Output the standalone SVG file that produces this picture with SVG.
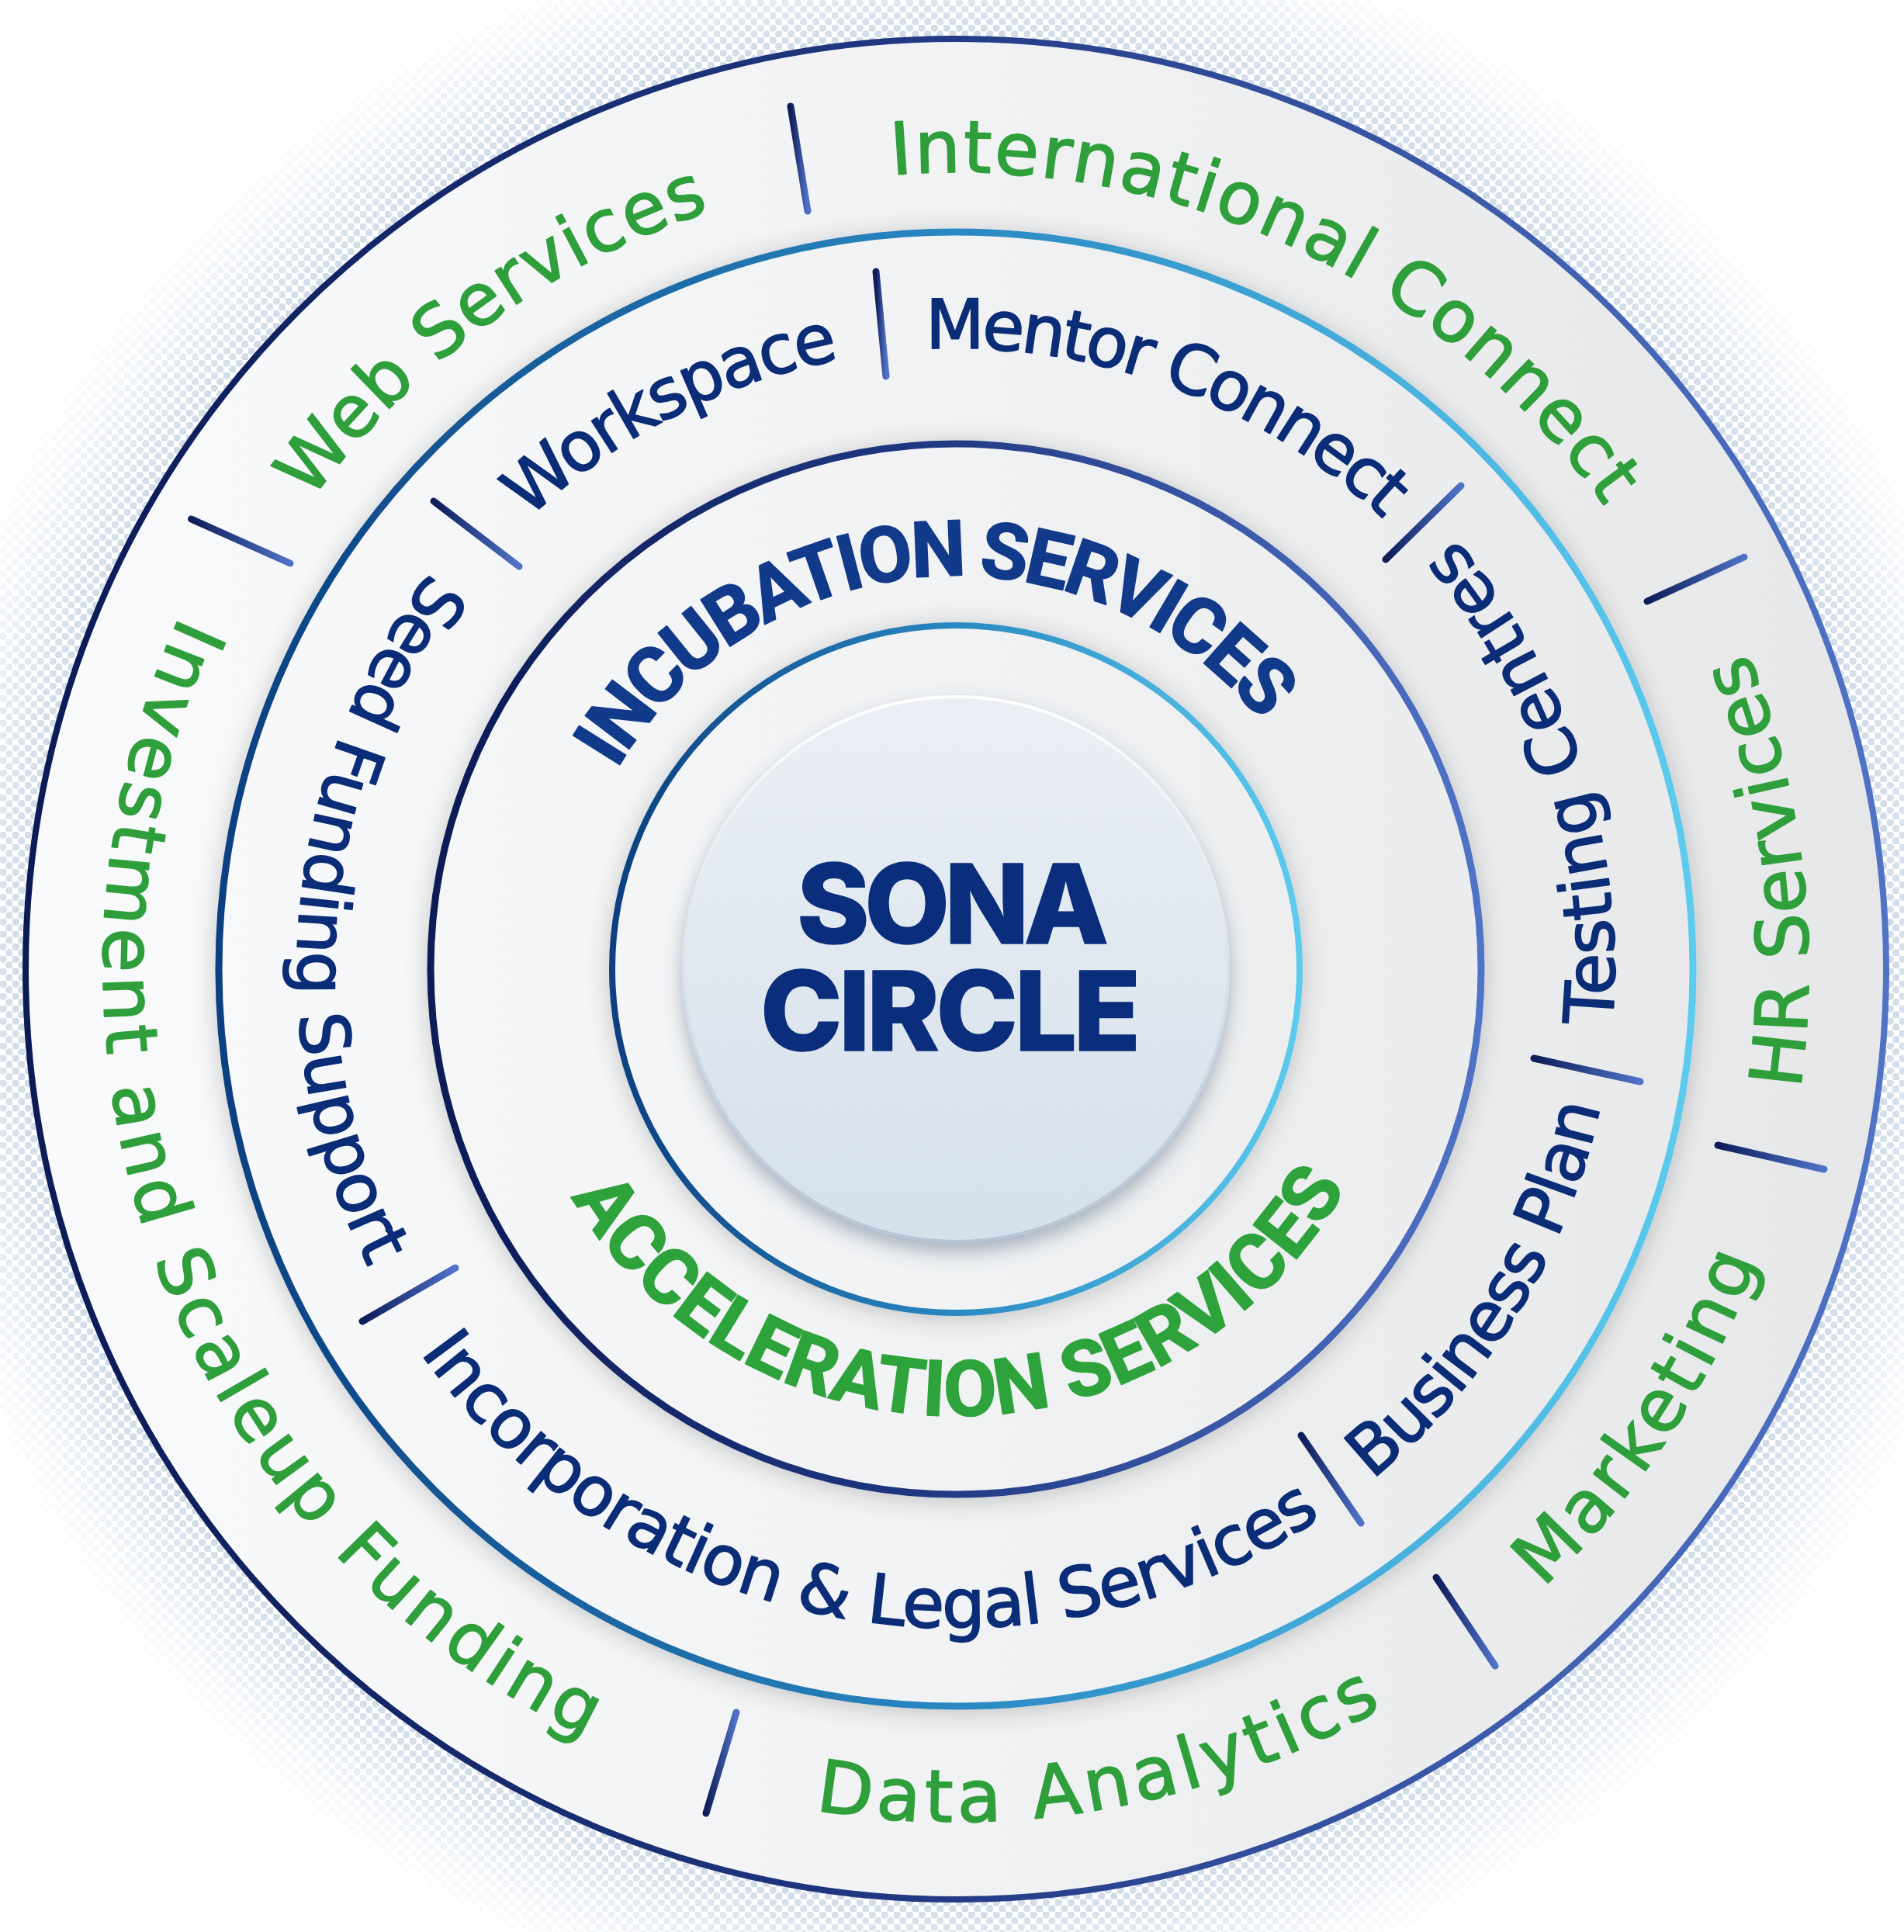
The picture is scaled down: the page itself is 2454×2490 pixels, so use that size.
<svg xmlns="http://www.w3.org/2000/svg" width="2454" height="2490" viewBox="0 0 2454 2490">
<style>
.lbl{font-family:"DejaVu Sans","Open Sans","Liberation Sans",sans-serif;font-weight:400;stroke-width:1.8;stroke-linejoin:round}
.g{fill:#2f9f3c;stroke:#2f9f3c;font-size:93px}
.b{fill:#0b2c77;stroke:#0b2c77;font-size:88px}
.bold{font-family:Roboto,Inter,"Liberation Sans",sans-serif;font-weight:700;font-size:100px;stroke-width:1.6;stroke-linejoin:round}
.inc{fill:#123a8a;stroke:#123a8a}
.acc{fill:#2ea33c;stroke:#2ea33c}
.sep{stroke:url(#sepGrad);stroke-width:9;stroke-linecap:round;fill:none}
.core{font-family:Inter,"Open Sans","Liberation Sans",sans-serif;font-weight:800;font-size:142px;fill:#0a2e7b;stroke:#0a2e7b;stroke-width:1.5;stroke-linejoin:round}
</style>
<defs>
<pattern id="dots" patternUnits="userSpaceOnUse" width="16" height="16">
<circle cx="4" cy="4" r="5" fill="#d0dbe7"/>
<circle cx="12" cy="12" r="5" fill="#d0dbe7"/>
</pattern>
<radialGradient id="haloGrad" gradientUnits="userSpaceOnUse" cx="1232" cy="1249" r="1380">
<stop offset="0" stop-color="#000"/>
<stop offset="0.865" stop-color="#000"/>
<stop offset="0.87" stop-color="#fff"/>
<stop offset="0.915" stop-color="#9a9a9a"/>
<stop offset="0.96" stop-color="#3a3a3a"/>
<stop offset="1" stop-color="#000"/>
</radialGradient>
<mask id="haloMask" maskUnits="userSpaceOnUse" x="0" y="0" width="2454" height="2490">
<rect width="2454" height="2490" fill="url(#haloGrad)"/>
</mask>
<linearGradient id="bandGrad" gradientUnits="userSpaceOnUse" x1="30" y1="0" x2="2434" y2="0">
<stop offset="0" stop-color="#f9fafb"/>
<stop offset="0.5" stop-color="#f1f2f3"/>
<stop offset="1" stop-color="#e6e7e8"/>
</linearGradient>
<linearGradient id="navyGrad" x1="0" y1="0" x2="1" y2="0">
<stop offset="0" stop-color="#0c1a55"/>
<stop offset="0.45" stop-color="#1f3680"/>
<stop offset="1" stop-color="#5073c6"/>
</linearGradient>
<linearGradient id="tealGrad" x1="0" y1="0" x2="1" y2="0">
<stop offset="0" stop-color="#0b3f80"/>
<stop offset="0.5" stop-color="#2a88c2"/>
<stop offset="1" stop-color="#5ccbee"/>
</linearGradient>
<linearGradient id="sepGrad" x1="0" y1="0" x2="1" y2="0">
<stop offset="0" stop-color="#0e1c58"/>
<stop offset="1" stop-color="#5073c8"/>
</linearGradient>
<linearGradient id="coreFill" x1="0" y1="0" x2="0" y2="1">
<stop offset="0" stop-color="#ebeff5"/>
<stop offset="1" stop-color="#d5e0eb"/>
</linearGradient>
<linearGradient id="coreEdge" x1="0" y1="0" x2="0" y2="1">
<stop offset="0" stop-color="#ffffff"/>
<stop offset="1" stop-color="#b6c5d6"/>
</linearGradient>
<filter id="sh" x="-15%" y="-15%" width="130%" height="130%">
<feGaussianBlur in="SourceAlpha" stdDeviation="16"/>
<feOffset dy="4"/>
<feComponentTransfer><feFuncA type="linear" slope="0.2"/></feComponentTransfer>
<feMerge><feMergeNode/><feMergeNode in="SourceGraphic"/></feMerge>
</filter>
<filter id="coreSh" x="-20%" y="-20%" width="140%" height="140%">
<feDropShadow dx="0" dy="12" stdDeviation="12" flood-color="#4f6480" flood-opacity="0.45"/>
</filter>
<path id="p-web" d="M401.1,645.3 A1027,1027 0 0 1 914.6,272.3"/>
<path id="p-intl" d="M1149.6,225.3 A1027,1027 0 0 1 2068.1,652.6"/>
<path id="p-hr" d="M2320.0,1403.8 A1099,1099 0 0 0 2252.4,840.9"/>
<path id="p-mkt" d="M1988.5,2046.2 A1099,1099 0 0 0 2264.7,1624.9"/>
<path id="p-data" d="M1050.6,2332.9 A1099,1099 0 0 0 1781.5,2200.8"/>
<path id="p-inv" d="M232.0,793.3 A1099,1099 0 0 0 755.4,2239.3"/>
<path id="p-work" d="M681.3,668.7 A800,800 0 0 1 1082.1,463.2"/>
<path id="p-mentor" d="M1192.9,450.0 A800,800 0 0 1 1782.7,668.7"/>
<path id="p-test" d="M2077.9,1321.5 A849,849 0 0 0 1874.7,694.2"/>
<path id="p-biz" d="M1768.2,1907.2 A849,849 0 0 0 2062.5,1425.5"/>
<path id="p-legal" d="M541.7,1743.2 A849,849 0 0 0 1703.1,1955.3"/>
<path id="p-seed" d="M554.9,736.9 A849,849 0 0 0 474.9,1633.1"/>
<path id="p-inc" d="M795.2,991.7 A507,507 0 0 1 1626.0,929.9"/>
<path id="p-acc" d="M736.2,1542.2 A576,576 0 0 0 1734.3,1530.9"/>
</defs>

<rect width="2454" height="2490" fill="#ffffff"/>
<rect width="2454" height="2490" fill="url(#dots)" mask="url(#haloMask)"/>

<g id="ring-outer">
<circle cx="1232" cy="1249" r="1199" fill="url(#bandGrad)" stroke="url(#navyGrad)" stroke-width="8"/>
</g>
<g id="ring-second">
<circle cx="1232" cy="1249" r="950" fill="url(#bandGrad)" stroke="url(#tealGrad)" stroke-width="9" filter="url(#sh)"/>
</g>
<g id="ring-third">
<circle cx="1232" cy="1249" r="677" fill="url(#bandGrad)" stroke="url(#navyGrad)" stroke-width="9" filter="url(#sh)"/>
</g>
<g id="ring-fourth">
<circle cx="1232" cy="1249" r="443" fill="url(#bandGrad)" stroke="url(#tealGrad)" stroke-width="8" filter="url(#sh)"/>
</g>
<g id="core">
<circle cx="1232" cy="1249" r="351" fill="url(#coreFill)" stroke="url(#coreEdge)" stroke-width="4" filter="url(#coreSh)"/>
<text class="core" x="1228" y="1216" text-anchor="middle" textLength="402" lengthAdjust="spacing">SONA</text>
<text class="core" x="1225" y="1354" text-anchor="middle" textLength="490" lengthAdjust="spacing">CIRCLE</text>
</g>

<g id="connectors">
<line class="sep" x1="1019" y1="137" x2="1041" y2="272"/>
<line class="sep" x1="2248" y1="718" x2="2123" y2="775"/>
<line class="sep" x1="2214" y1="1476" x2="2351" y2="1507"/>
<line class="sep" x1="1851" y1="2033" x2="1927" y2="2147"/>
<line class="sep" x1="949" y1="2207" x2="910" y2="2337"/>
<line class="sep" x1="246.5" y1="669" x2="374" y2="726"/>
<line class="sep" x1="1129" y1="350" x2="1142" y2="485"/>
<line class="sep" x1="1883" y1="626" x2="1786" y2="721"/>
<line class="sep" x1="1977" y1="1364" x2="2114" y2="1394"/>
<line class="sep" x1="1677" y1="1850" x2="1754" y2="1963"/>
<line class="sep" x1="467" y1="1703" x2="587" y2="1634"/>
<line class="sep" x1="559" y1="646" x2="669" y2="730"/>
</g>

<g id="label-incubation"><text class="bold inc"><textPath href="#p-inc" textLength="977.8" lengthAdjust="spacing">INCUBATION SERVICES</textPath></text></g>
<g id="label-acceleration"><text class="bold acc"><textPath href="#p-acc" textLength="1207.4" lengthAdjust="spacing">ACCELERATION SERVICES</textPath></text></g>

<g id="label-workspace"><text class="lbl b"><textPath href="#p-work" textLength="456.6" lengthAdjust="spacing">Workspace</textPath></text></g>
<g id="label-mentor"><text class="lbl b"><textPath href="#p-mentor" textLength="646.5" lengthAdjust="spacing">Mentor Connect</textPath></text></g>
<g id="label-testing"><text class="lbl b"><textPath href="#p-test" textLength="677.2" lengthAdjust="spacing">Testing Centres</textPath></text></g>
<g id="label-business"><text class="lbl b"><textPath href="#p-biz" textLength="574.9" lengthAdjust="spacing">Business Plan</textPath></text></g>
<g id="label-legal"><text class="lbl b"><textPath href="#p-legal" textLength="1305.5" lengthAdjust="spacing">Incorporation &amp; Legal Services</textPath></text></g>
<g id="label-seed"><text class="lbl b"><textPath href="#p-seed" textLength="948.4" lengthAdjust="spacing">Seed Funding Support</textPath></text></g>

<g id="label-web"><text class="lbl g"><textPath href="#p-web" textLength="645.3" lengthAdjust="spacing">Web Services</textPath></text></g>
<g id="label-intl"><text class="lbl g"><textPath href="#p-intl" textLength="1059.3" lengthAdjust="spacing">International Connect</textPath></text></g>
<g id="label-hr"><text class="lbl g"><textPath href="#p-hr" textLength="573.5" lengthAdjust="spacing">HR Services</textPath></text></g>
<g id="label-marketing"><text class="lbl g"><textPath href="#p-mkt" textLength="508.3" lengthAdjust="spacing">Marketing</textPath></text></g>
<g id="label-data"><text class="lbl g"><textPath href="#p-data" textLength="757.7" lengthAdjust="spacing">Data Analytics</textPath></text></g>
<g id="label-investment"><text class="lbl g"><textPath href="#p-inv" textLength="1703.3" lengthAdjust="spacing">Investment and Scaleup Funding</textPath></text></g>
</svg>
